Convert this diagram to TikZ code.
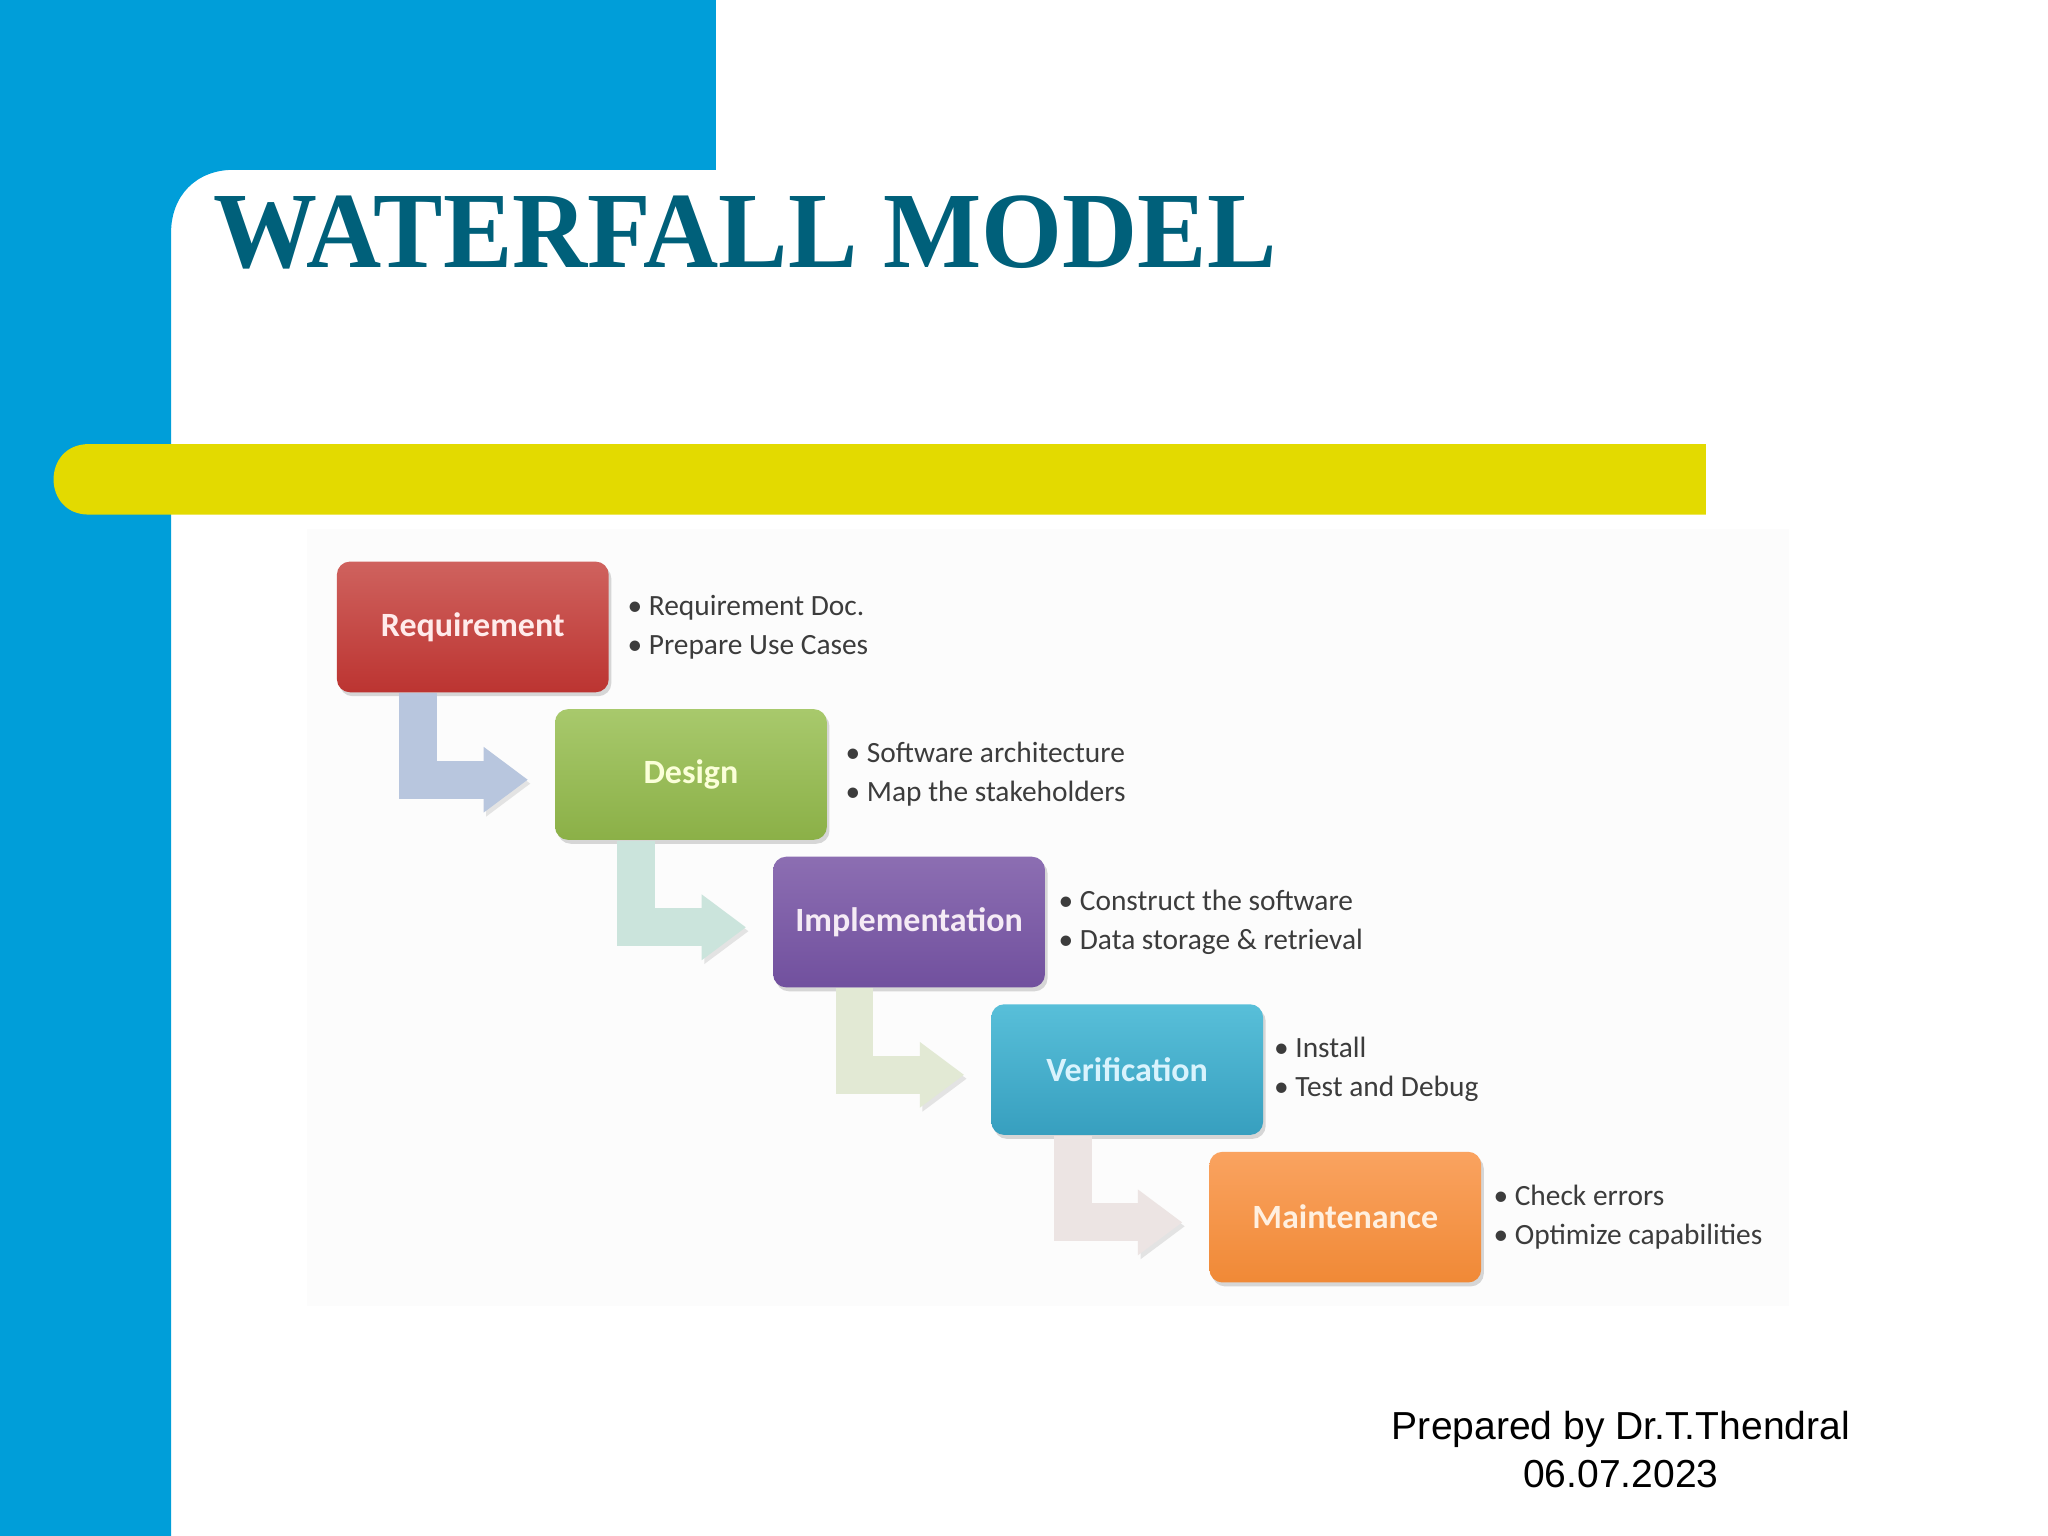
\documentclass[tikz,border=0pt]{standalone}
\usepackage{fontspec}
\setmainfont{Carlito}
\newfontfamily\titlefont[FakeStretch=0.96]{Liberation Serif}
\newfontfamily\footfont{Liberation Sans}
\usepackage{tikz}
\usetikzlibrary{shadows}
\usetikzlibrary{positioning}
\usetikzlibrary{arrows.meta}
\usetikzlibrary{calc}

\definecolor{slideblue}{HTML}{009ED9}
\definecolor{baryellow}{HTML}{E3DA00}
\definecolor{titleteal}{HTML}{00607A}
\definecolor{notegray}{HTML}{3C3C3C}
\definecolor{reqtop}{HTML}{CF625E}
\definecolor{reqbot}{HTML}{BC3431}
\definecolor{destop}{HTML}{A8C96C}
\definecolor{desbot}{HTML}{8BB047}
\definecolor{imptop}{HTML}{8C6EB2}
\definecolor{impbot}{HTML}{71509E}
\definecolor{vertop}{HTML}{58BFD9}
\definecolor{verbot}{HTML}{379FBF}
\definecolor{maitop}{HTML}{FAA360}
\definecolor{maibot}{HTML}{F08936}
\definecolor{arrowA}{HTML}{B8C6DE}
\definecolor{arrowB}{HTML}{CBE4DC}
\definecolor{arrowC}{HTML}{E2E9D4}
\definecolor{arrowD}{HTML}{ECE4E3}

\begin{document}
\begin{tikzpicture}[x=0.01cm,y=-0.01cm,
	phase node/.style={rectangle,rounded corners=0.1cm,minimum width=2.08cm,minimum height=1cm,
		font=\bfseries\fontsize{7.4}{9}\selectfont,
		drop shadow={opacity=0.3,shadow xshift=0.02cm,shadow yshift=-0.03cm}},
	note node/.style={align=left,text=notegray,inner sep=0pt,font=\fontsize{6.4}{8.5}\selectfont},
	bend arrow/.style={line width=0.29cm,-{Triangle[length=0.34cm,width=0.48cm]},
		preaction={draw=black!40,opacity=0.25,transform canvas={xshift=0.02cm,yshift=-0.03cm}}}]
	
	\useasboundingbox (0,0) rectangle (1568,1176);
	
	% slide frame
	\fill[slideblue] (0,0) -- (548,0) -- (548,130) -- (179,130) .. controls (150,130) and (131,150) .. (131,178) -- (131,1176) -- (0,1176) -- cycle;
	\fill[baryellow] (68,340) -- (1306,340) -- (1306,394) -- (68,394) .. controls (32,394) and (32,340) .. (68,340) -- cycle;
	\fill[black!1] (235,405) rectangle (1370,1000);
	
	\node[anchor=base west,inner sep=0pt,text=titleteal,font=\titlefont\bfseries\fontsize{23.6}{28}\selectfont] (title) at (163,205) {WATERFALL MODEL};
	
	% phases
	\node[phase node,top color=reqtop,bottom color=reqbot,text=red!8] (req) at (362,480) {Requirement};
	\node[phase node,top color=destop,bottom color=desbot,text=green!10!yellow!15] (des) [below right=0.115cm and -0.425cm of req] {Design};
	\node[phase node,top color=imptop,bottom color=impbot,text=violet!8] (imp) [below right=0.115cm and -0.425cm of des] {Implementation};
	\node[phase node,top color=vertop,bottom color=verbot,text=cyan!15] (ver) [below right=0.115cm and -0.425cm of imp] {Verification};
	\node[phase node,top color=maitop,bottom color=maibot,text=orange!12] (mai) [below right=0.115cm and -0.425cm of ver] {Maintenance};
	
	% notes
	\node[note node] (reqnote) [right=0.13cm of req] {\textbullet\ Requirement Doc.\\\textbullet\ Prepare Use Cases};
	\node[note node] (desnote) [right=0.13cm of des] {\textbullet\ Software architecture\\\textbullet\ Map the stakeholders};
	\node[note node] (impnote) [right=0.09cm of imp] {\textbullet\ Construct the software\\\textbullet\ Data storage \& retrieval};
	\node[note node] (vernote) [right=0.07cm of ver] {\textbullet\ Install\\\textbullet\ Test and Debug};
	\node[note node] (mainote) [right=0.08cm of mai] {\textbullet\ Check errors\\\textbullet\ Optimize capabilities};
	
	% bent arrows
	\draw[bend arrow,draw=arrowA] ($(req.south west)+(63,0)$) |- ($(des.west)+(-20,4)$);
	\draw[bend arrow,draw=arrowB] ($(des.south west)+(63,0)$) |- ($(imp.west)+(-20,4)$);
	\draw[bend arrow,draw=arrowC] ($(imp.south west)+(63,0)$) |- ($(ver.west)+(-20,4)$);
	\draw[bend arrow,draw=arrowD] ($(ver.south west)+(63,0)$) |- ($(mai.west)+(-20,4)$);
	
	\node[align=center,font=\footfont\fontsize{8.5}{10.5}\selectfont] (footer) at (1241,1110) {Prepared by Dr.T.Thendral\\06.07.2023};
\end{tikzpicture}
\end{document}
